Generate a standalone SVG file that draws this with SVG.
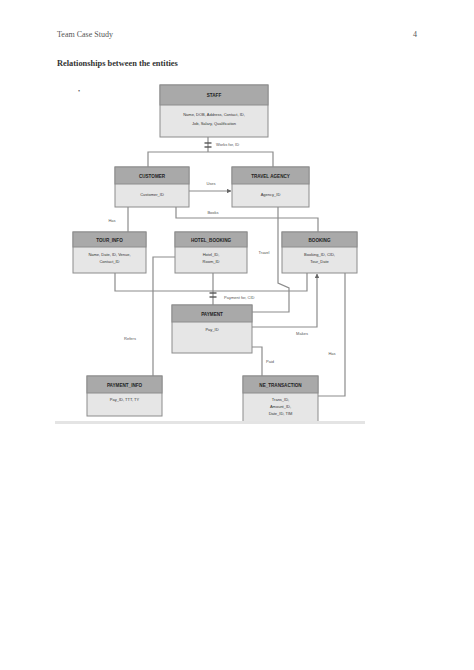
<svg xmlns="http://www.w3.org/2000/svg" width="474" height="670" viewBox="0 0 474 670">
<defs>
<style>
.page{font-family:"Liberation Serif",serif;fill:#555}
.box{fill:#e6e6e6;stroke:#8c8c8c;stroke-width:1}
.hdr{fill:#a9a9a9;stroke:#8c8c8c;stroke-width:1}
.title{font-family:"Liberation Sans",Arial,sans-serif;font-size:4.6px;font-weight:bold;fill:#222;text-anchor:middle}
.attr{font-family:"Liberation Sans",Arial,sans-serif;font-size:4px;fill:#333;text-anchor:middle}
.lbl{font-family:"Liberation Sans",Arial,sans-serif;font-size:4px;fill:#555}
.conn{fill:none;stroke:#8c8c8c;stroke-width:1.2}
.bar{stroke:#555;stroke-width:1.4}
</style>
<marker id="arr" viewBox="0 0 6 6" refX="5.5" refY="3" markerWidth="4" markerHeight="4" orient="auto">
<path d="M0 0 L6 3 L0 6 Z" fill="#666"/>
</marker>
</defs>
<rect width="474" height="670" fill="#ffffff"/>
<text class="page" x="57" y="37" font-size="8">Team Case Study</text>
<text class="page" x="413" y="37" font-size="8">4</text>
<text x="57" y="66" font-family="Liberation Serif,serif" font-size="8.4" font-weight="bold" fill="#333">Relationships between the entities</text>
<text class="page" x="78" y="93" font-size="6">•</text>

<g id="connectors">
<path class="conn" d="M208 137 V152 M148 167 V152 H273 V167"/>
<line class="bar" x1="204.5" y1="143" x2="211.5" y2="143"/>
<line class="bar" x1="204.5" y1="147" x2="211.5" y2="147"/>
<text class="lbl" x="216" y="146">Works for, ID</text>
<path class="conn" d="M189 191 H231" marker-end="url(#arr)"/>
<text class="lbl" x="211" y="185" text-anchor="middle">Uses</text>
<path class="conn" d="M176 207 V218 H318 V232"/>
<text class="lbl" x="213" y="214" text-anchor="middle">Books</text>
<path class="conn" d="M128 207 V232"/>
<text class="lbl" x="112" y="222" text-anchor="middle">Has</text>
<path class="conn" d="M278 207 V283 L289 288 V312 H252"/>
<text class="lbl" x="264" y="254" text-anchor="middle">Travel</text>
<path class="conn" d="M115 273 V291 H307 V273 M213 273 V305"/>
<line class="bar" x1="209.5" y1="293" x2="216.5" y2="293"/>
<line class="bar" x1="209.5" y1="297" x2="216.5" y2="297"/>
<text class="lbl" x="224" y="299">Payment for, CID</text>
<path class="conn" d="M175 257 H153 V376"/>
<text class="lbl" x="130" y="340" text-anchor="middle">Refers</text>
<path class="conn" d="M252 327 H317 V274" marker-end="url(#arr)"/>
<text class="lbl" x="302" y="335" text-anchor="middle">Makes</text>
<path class="conn" d="M345 273 V396 H318"/>
<text class="lbl" x="332" y="355" text-anchor="middle">Has</text>
<path class="conn" d="M252 347 H262 V376"/>
<text class="lbl" x="270" y="363" text-anchor="middle">Paid</text>
</g>

<g id="staff">
<rect class="box" x="160" y="85" width="108" height="52"/>
<rect class="hdr" x="160" y="85" width="108" height="20"/>
<text class="title" x="214" y="97">STAFF</text>
<text class="attr" x="214" y="116">Name, DOB, Address, Contact, ID,</text>
<text class="attr" x="214" y="125">Job, Salary, Qualification</text>
</g>
<g id="customer">
<rect class="box" x="115" y="167" width="74" height="40"/>
<rect class="hdr" x="115" y="167" width="74" height="17"/>
<text class="title" x="152" y="177.5">CUSTOMER</text>
<text class="attr" x="152" y="196">Customer_ID</text>
</g>
<g id="travel_agency">
<rect class="box" x="232" y="167" width="77" height="40"/>
<rect class="hdr" x="232" y="167" width="77" height="17"/>
<text class="title" x="270.5" y="177.5">TRAVEL AGENCY</text>
<text class="attr" x="270.5" y="196">Agency_ID</text>
</g>
<g id="tour_details">
<rect class="box" x="73" y="232" width="73" height="41"/>
<rect class="hdr" x="73" y="232" width="73" height="15"/>
<text class="title" x="109.5" y="241.5">TOUR_INFO</text>
<text class="attr" x="109.5" y="256">Name, Date, ID, Venue,</text>
<text class="attr" x="109.5" y="263">Contact_ID</text>
</g>
<g id="hotel_booking">
<rect class="box" x="175" y="232" width="72" height="41"/>
<rect class="hdr" x="175" y="232" width="72" height="15"/>
<text class="title" x="211" y="241.5">HOTEL_BOOKING</text>
<text class="attr" x="211" y="256">Hotel_ID,</text>
<text class="attr" x="211" y="263">Room_ID</text>
</g>
<g id="booking">
<rect class="box" x="282" y="232" width="75" height="41"/>
<rect class="hdr" x="282" y="232" width="75" height="15"/>
<text class="title" x="319.5" y="241.5">BOOKING</text>
<text class="attr" x="319.5" y="256">Booking_ID, CID,</text>
<text class="attr" x="319.5" y="263">Tour_Date</text>
</g>
<g id="payment">
<rect class="box" x="172" y="305" width="80" height="48"/>
<rect class="hdr" x="172" y="305" width="80" height="17"/>
<text class="title" x="212" y="315.5">PAYMENT</text>
<text class="attr" x="212" y="331">Pay_ID</text>
</g>
<g id="payment_info">
<rect class="box" x="87" y="376" width="75" height="40"/>
<rect class="hdr" x="87" y="376" width="75" height="17"/>
<text class="title" x="124.5" y="386.5">PAYMENT_INFO</text>
<text class="attr" x="124.5" y="401">Pay_ID, TTT, TY</text>
</g>
<g id="transaction">
<rect class="box" x="243" y="376" width="75" height="46"/>
<rect class="hdr" x="243" y="376" width="75" height="17"/>
<text class="title" x="280.5" y="386.5">NE_TRANSACTION</text>
<text class="attr" x="280.5" y="401">Trans_ID,</text>
<text class="attr" x="280.5" y="408">Amount_ID,</text>
<text class="attr" x="280.5" y="415">Date_ID, TIM</text>
</g>
<rect x="55" y="421" width="310" height="3" fill="#e4e4e4"/>
</svg>
